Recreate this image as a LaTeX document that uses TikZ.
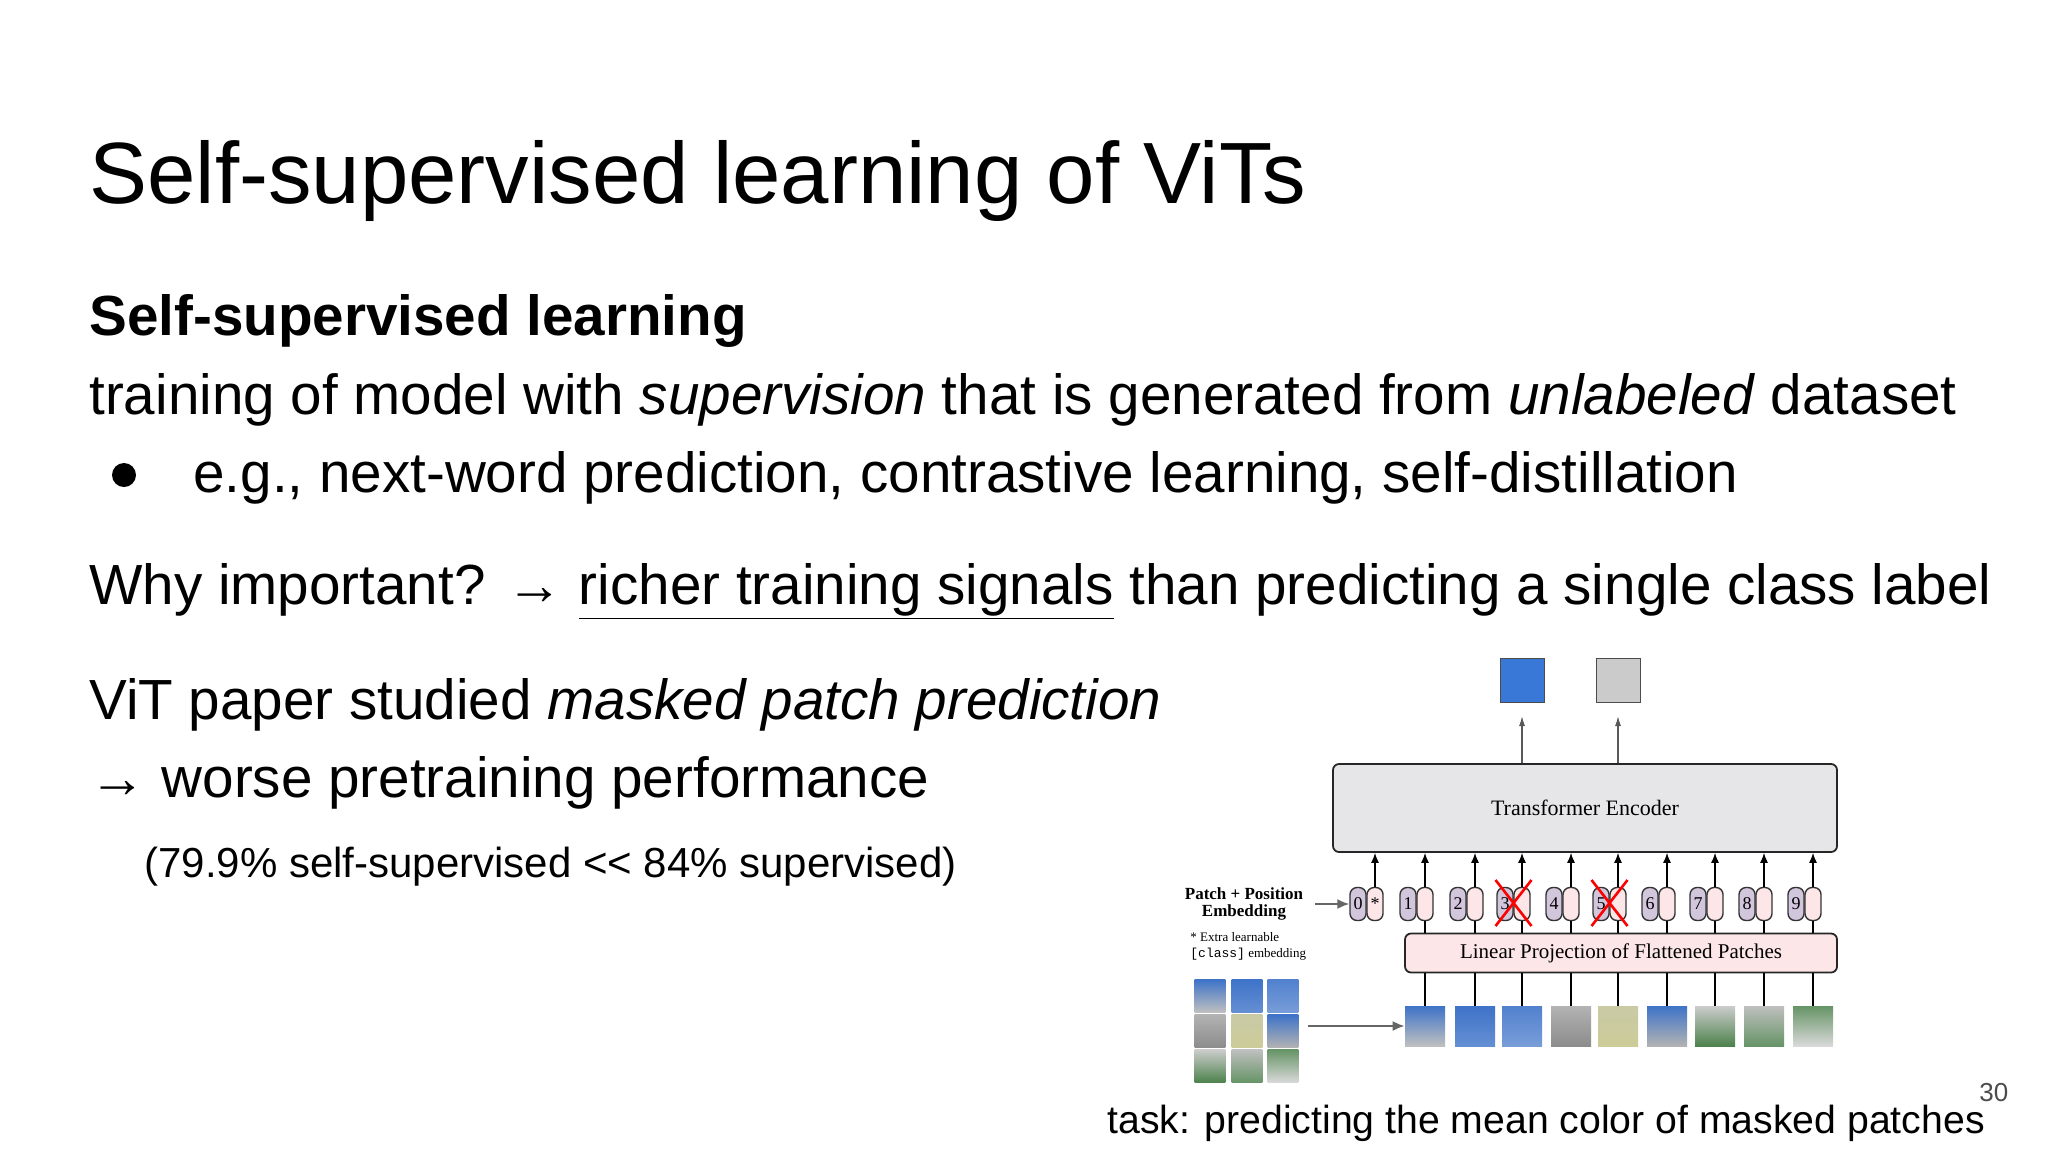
\documentclass[tikz,border=0pt]{standalone}
\usepackage{fontspec}
\setmainfont{Liberation Sans}
\newfontfamily\tms{Liberation Serif}
\newfontfamily\mno{Liberation Mono}
\usetikzlibrary{arrows.meta,calc}
\definecolor{encfill}{HTML}{E6E6E9}
\definecolor{projfill}{HTML}{FCE6E8}
\definecolor{purp}{HTML}{D2C6DC}
\definecolor{sky}{HTML}{3E73C8}
\definecolor{blueout}{HTML}{3A78D8}
\definecolor{grayout}{HTML}{CBCBCB}
\tikzset{
  txt/.style={anchor=base west,inner sep=0pt,font=\fontsize{28.3}{34}\selectfont},
  pill/.style={draw=black!80,line width=0.7pt,rounded corners=3.5pt,minimum width=8pt,minimum height=16.5pt,inner sep=0pt,font=\tms\fontsize{9}{9}\selectfont},
  upar/.style={-{Latex[length=5pt,width=4pt]},line width=0.6pt},
  graar/.style={-{Latex[length=6pt,width=5pt]},line width=0.9pt,draw=black!60},
  patch/.style={minimum width=20pt,minimum height=20pt,inner sep=0pt},
  small/.style={minimum width=15pt,minimum height=16pt,inner sep=0pt},
  xmark/.style={draw=red,line width=1.3pt}
}
\begin{document}
\begin{tikzpicture}[x=0.5pt,y=-0.5pt]
\useasboundingbox (0,0) rectangle (2048,1152);
\node[txt,font=\fontsize{43.5}{50}\selectfont] (title) at (89,203) {Self-supervised learning of ViTs};
\node[txt,font=\bfseries\fontsize{28.3}{34}\selectfont] (h1) at (89,335) {Self-supervised learning};
\node[txt] (l1) at (89,414) {training of model with \textit{supervision} that is generated from \textit{unlabeled} dataset};
\node[circle,fill=black,inner sep=0pt,minimum size=12pt] (bul) at (124,475) {};
\node[txt] (l2) at (193,492) {e.g., next-word prediction, contrastive learning, self-distillation};
\node[txt] (l3) at (89,604) {Why important? → \underline{richer training signals} than predicting a single class label};
\begin{scope}
\clip (0,600) rectangle (1164,760);
\node[txt] (l4) at (89,719) {ViT paper studied \textit{masked patch prediction}};
\end{scope}
\node[txt] (l5) at (89,797) {→ worse pretraining performance};
\node[txt,font=\fontsize{21}{26}\selectfont] (l6) at (144,877) {(79.9\% self-supervised <{}< 84\% supervised)};
\node[txt,font=\fontsize{19.6}{24}\selectfont] (task) at (1107,1133) {task: predicting the mean color of masked patches};
\node[txt,font=\fontsize{13}{16}\selectfont,text=black!70] (pg) at (1979,1101) {30};

% outputs
\node[draw=black!70,fill=blueout,minimum width=22pt,minimum height=22pt,inner sep=0pt] (ob) at (1522,680) {};
\node[draw=black!70,fill=grayout,minimum width=22pt,minimum height=22pt,inner sep=0pt] (og) at (1618,680) {};
% encoder
\node[draw=black!85,line width=0.9pt,fill=encfill,rounded corners=3pt,minimum width=252pt,minimum height=44pt,inner sep=0pt,font=\tms\fontsize{11}{12}\selectfont] (enc) at (1585,808) {Transformer Encoder};
\coordinate (oa) at (1522,716);
\coordinate (ga) at (1618,716);
\draw[-{Latex[length=5pt,width=3pt]},line width=0.6pt,draw=black!65] (enc.north -| ob) -- (oa);
\draw[-{Latex[length=5pt,width=3pt]},line width=0.6pt,draw=black!65] (enc.north -| og) -- (ga);
% projection
\node[draw=black!85,line width=0.9pt,fill=projfill,rounded corners=3pt,minimum width=216pt,minimum height=19.5pt,inner sep=0pt,font=\tms\fontsize{10.5}{12}\selectfont] (proj) at (1621,953) {Linear Projection of Flattened Patches};
% tokens
\foreach \i/\X in {0/1375,1/1425,2/1475,3/1522,4/1571,5/1618,6/1667,7/1715,8/1764,9/1813}{
  \node[pill,fill=purp] (q\i) at (\X-17,904) {\i};
}
\foreach \i/\X in {1/1425,2/1475,3/1522,4/1571,5/1618,6/1667,7/1715,8/1764,9/1813}{
  \node[pill,fill=projfill] (p\i) at (\X,904) {};
}
\node[pill,fill=projfill] (p0) at (1375,904) {*};
\foreach \i in {0,...,9}{
  \draw[upar] (p\i.north) -- (enc.south -| p\i.north);
}
\foreach \i in {1,...,9}{
  \draw[line width=0.6pt] (proj.north -| p\i.south) -- (p\i.south);
}
% patches
\foreach \i/\X/\ca/\cb in {1/1425/sky/black!25,2/1475/sky/sky!80,3/1522/sky!90/sky!70,4/1571/black!30/black!45,5/1618/yellow!40!black!35/yellow!50!black!40,6/1667/sky/black!30,7/1715/black!20/green!30!black!70,8/1764/black!25/green!30!black!60,9/1813/green!30!black!60/black!15}{
  \node[patch,top color=\ca,bottom color=\cb] (x\i) at (\X,1026) {};
  \draw[line width=0.6pt] (x\i.north) -- (proj.south -| x\i.north);
}
% left grid
\foreach \r/\Y in {0/996,1/1031,2/1066}{
  \foreach \c/\X in {0/1210,1/1247,2/1283}{
    \pgfmathtruncatemacro{\k}{3*\r+\c+1}
    \node[small] (g\k) at (\X,\Y) {};
  }
}
\foreach \k/\ca/\cb in {1/sky/black!25,2/sky/sky!80,3/sky!90/sky!70,4/black!30/black!45,5/yellow!40!black!35/yellow!50!black!40,6/sky/black!30,7/black!20/green!30!black!70,8/black!25/green!30!black!60,9/green!30!black!60/black!15}{
  \fill[top color=\ca,bottom color=\cb] (g\k.north west) rectangle (g\k.south east);
}
\coordinate (gr) at (1308,1026);
\draw[graar] (gr) -- (x1.west);
% labels
\node[align=center,inner sep=0pt,font=\tms\bfseries\fontsize{8.5}{8.5}\selectfont] (pe) at (1244,904) {Patch + Position\\Embedding};
\coordinate (pa) at (1315,904);
\draw[graar] (pa) -- (q0.west);
\node[align=left,inner sep=0pt,anchor=north west,font=\tms\fontsize{6.5}{8}\selectfont] (xl) at (1190,932) {* Extra learnable\\{\mno [class]} embedding};
% red crosses
\foreach \i in {3,5}{
  \draw[xmark] ($(q\i.center)!0.5!(p\i.center)+(-18,22)$) -- ++(36,-46);
  \draw[xmark] ($(q\i.center)!0.5!(p\i.center)+(-18,-24)$) -- ++(36,46);
}
\end{tikzpicture}
\end{document}
